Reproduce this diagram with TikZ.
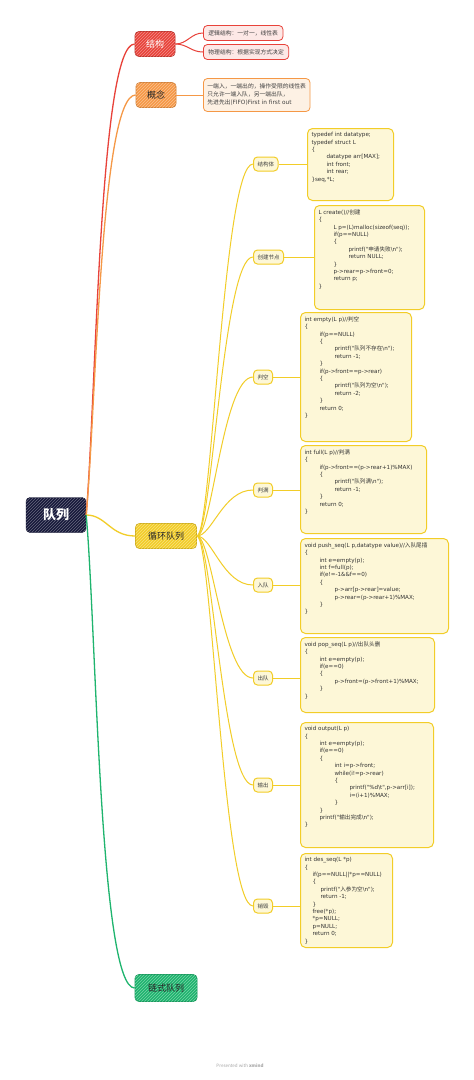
\documentclass[tikz,border=0pt]{standalone}
\usepackage{fontspec}
\setmainfont{Noto Sans CJK SC}[Ligatures=TeXOff]
\newfontfamily\cjk{Noto Sans CJK SC}[Ligatures=TeXOff]
\newfontfamily\codelatin{DejaVu Sans}[Ligatures=TeXOff]
\usepackage{xcolor}
\usepackage{tikz}
\usetikzlibrary{patterns}
\definecolor{rootblue}{RGB}{22,24,58}
\definecolor{jgred}{RGB}{232,66,58}
\definecolor{jgpink}{RGB}{253,232,230}
\definecolor{gnorange}{RGB}{245,152,70}
\definecolor{gnpeach}{RGB}{253,241,228}
\definecolor{xhyellow}{RGB}{242,205,40}
\definecolor{codefill}{RGB}{253,247,215}
\definecolor{lsgreen}{RGB}{30,180,110}
\newcommand{\cind}[1]{\hspace*{#1}}
\newcommand{\bksl}{\textbackslash}

\begin{document}
\begin{tikzpicture}[x=1pt, y=-1pt,
    rootbox/.style={draw=rootblue!80!black, fill=rootblue, rounded corners=4pt, minimum width=60pt, minimum height=35pt, text=white, font=\fontsize{13}{13}\selectfont\bfseries, postaction={pattern=north east lines, pattern color=white!35!rootblue}},
    topic/.style={rounded corners=4pt, line width=0.8pt, minimum height=25pt, font=\fontsize{9}{9}\selectfont},
    leaf/.style={rounded corners=4pt, line width=0.8pt, font=\fontsize{5.8}{8}\selectfont, text=black!75, inner xsep=5pt, inner ysep=3pt, minimum height=15pt, anchor=west},
    sublabel/.style={draw=xhyellow, fill=codefill, rounded corners=4pt, line width=1pt, font=\fontsize{5.5}{6}\selectfont, text=black!75, inner xsep=4pt, minimum height=14pt, anchor=west},
    codebox/.style={draw=xhyellow, fill=codefill, rounded corners=5pt, line width=1pt, anchor=north west, inner sep=4pt, font=\codelatin\fontsize{5.6}{7.4}\selectfont, text=black!80},
    branch/.style={line width=1.3pt},
    twig/.style={line width=1pt, draw=xhyellow}]

    % page
    \fill[white] (0,0) rectangle (474,1080);
    \useasboundingbox (0,0) rectangle (474,1080);

    % main topics
    \node[rootbox] (root) at (56,515) {队列};
    \node[topic, fill=jgred, draw=jgred!80!black, text=white, minimum width=40pt, postaction={pattern=north east lines, pattern color=white!40!jgred}] (jg) at (155,44) {结构};
    \node[topic, fill=gnorange, draw=gnorange!85!black, text=black!85, minimum width=40pt, postaction={pattern=north east lines, pattern color=white!40!gnorange}] (gn) at (156,95) {概念};
    \node[topic, fill=xhyellow, draw=xhyellow!85!black, text=black!85, minimum width=61pt, postaction={pattern=north east lines, pattern color=white!40!xhyellow}] (xhdl) at (166,536) {循环队列};
    \node[topic, fill=lsgreen, draw=lsgreen!85!black, text=black!85, minimum width=62pt, minimum height=27pt, postaction={pattern=north east lines, pattern color=white!40!lsgreen}] (lsdl) at (166,988) {链式队列};

    % leaves
    \node[leaf, fill=jgpink, draw=jgred] (jgl) at (203,33) {逻辑结构：一对一，线性表};
    \node[leaf, fill=jgpink, draw=jgred] (jgw) at (203,52) {物理结构：根据实现方式决定};
    \node[leaf, fill=gnpeach, draw=gnorange, align=left, minimum height=33pt, inner xsep=4pt] (gnl) at (203,95) {一端入，一端出的，操作受限的线性表\\只允许一端入队，另一端出队，\\先进先出({\codelatin FIFO)First in first out}};

    % circular queue items
    \node[sublabel] (jgt) at (253,164) {结构体};
    \node[sublabel] (cjjd) at (253,257) {创建节点};
    \node[sublabel] (pk) at (253,377) {判空};
    \node[sublabel] (pm) at (253,490) {判满};
    \node[sublabel] (rd) at (253,585) {入队};
    \node[sublabel] (cd) at (253,678) {出队};
    \node[sublabel] (sc) at (253,785) {输出};
    \node[sublabel] (xhui) at (253,906) {销毁};

    % code
    \node[codebox] (jgtcode) at (307,128) {\parbox[t][64pt][t]{78pt}{\raggedright
        typedef int datatype;\\
        typedef struct L\\
        \{\\
        \cind{15pt}datatype arr[MAX];\\
        \cind{15pt}int front;\\
        \cind{15pt}int rear;\\
        \}seq,*L;}};
    \node[codebox] (cjjdcode) at (314,205) {\parbox[t][96pt][t]{102pt}{\raggedright
        L create()//{\cjk 创建}\\
        \{\\
        \cind{15pt}L p=(L)malloc(sizeof(seq));\\
        \cind{15pt}if(p==NULL)\\
        \cind{15pt}\{\\
        \cind{30pt}printf("{\cjk 申请失败}\bksl n");\\
        \cind{30pt}return NULL;\\
        \cind{15pt}\}\\
        \cind{15pt}p->rear=p->front=0;\\
        \cind{15pt}return p;\\
        \}}};
    \node[codebox] (pkcode) at (300,312) {\parbox[t][121pt][t]{103pt}{\raggedright
        int empty(L p)//{\cjk 判空}\\
        \{\\
        \cind{15pt}if(p==NULL)\\
        \cind{15pt}\{\\
        \cind{30pt}printf("{\cjk 队列不存在}\bksl n");\\
        \cind{30pt}return -1;\\
        \cind{15pt}\}\\
        \cind{15pt}if(p->front==p->rear)\\
        \cind{15pt}\{\\
        \cind{30pt}printf("{\cjk 队列为空}\bksl n");\\
        \cind{30pt}return -2;\\
        \cind{15pt}\}\\
        \cind{15pt}return 0;\\
        \}}};
    \node[codebox] (pmcode) at (300,445) {\parbox[t][80pt][t]{118pt}{\raggedright
        int full(L p)//{\cjk 判满}\\
        \{\\
        \cind{15pt}if(p->front==(p->rear+1)\%MAX)\\
        \cind{15pt}\{\\
        \cind{30pt}printf("{\cjk 队列满}\bksl n");\\
        \cind{30pt}return -1;\\
        \cind{15pt}\}\\
        \cind{15pt}return 0;\\
        \}}};
    \node[codebox] (rdcode) at (300,538) {\parbox[t][87pt][t]{140pt}{\raggedright
        void push\_seq(L p,datatype value)//{\cjk 入队尾插}\\
        \{\\
        \cind{15pt}int e=empty(p);\\
        \cind{15pt}int f=full(p);\\
        \cind{15pt}if(e!=-1\&\&f==0)\\
        \cind{15pt}\{\\
        \cind{30pt}p->arr[p->rear]=value;\\
        \cind{30pt}p->rear=(p->rear+1)\%MAX;\\
        \cind{15pt}\}\\
        \}}};
    \node[codebox] (cdcode) at (300,637) {\parbox[t][67pt][t]{126pt}{\raggedright
        void pop\_seq(L p)//{\cjk 出队头删}\\
        \{\\
        \cind{15pt}int e=empty(p);\\
        \cind{15pt}if(e==0)\\
        \cind{15pt}\{\\
        \cind{30pt}p->front=(p->front+1)\%MAX;\\
        \cind{15pt}\}\\
        \}}};
    \node[codebox] (sccode) at (300,722) {\parbox[t][117pt][t]{125pt}{\raggedright
        void output(L p)\\
        \{\\
        \cind{15pt}int e=empty(p);\\
        \cind{15pt}if(e==0)\\
        \cind{15pt}\{\\
        \cind{30pt}int i=p->front;\\
        \cind{30pt}while(i!=p->rear)\\
        \cind{30pt}\{\\
        \cind{45pt}printf("\%d\bksl t",p->arr[i]);\\
        \cind{45pt}i=(i+1)\%MAX;\\
        \cind{30pt}\}\\
        \cind{15pt}\}\\
        \cind{15pt}printf("{\cjk 输出完成}\bksl n");\\
        \}}};
    \node[codebox] (xhuicode) at (300,853) {\parbox[t][86pt][t]{84pt}{\raggedright
        int des\_seq(L *p)\\
        \{\\
        \cind{8pt}if(p==NULL||*p==NULL)\\
        \cind{8pt}\{\\
        \cind{16pt}printf("{\cjk 入参为空}\bksl n");\\
        \cind{16pt}return -1;\\
        \cind{8pt}\}\\
        \cind{8pt}free(*p);\\
        \cind{8pt}*p=NULL;\\
        \cind{8pt}p=NULL;\\
        \cind{8pt}return 0;\\
        \}}};

    % branches from the root
    \draw[branch, jgred] (root.east) .. controls +(10,-120) and +(-35,0) .. (jg.west);
    \draw[branch, gnorange] (root.east) .. controls +(10,-110) and +(-35,0) .. (gn.west);
    \draw[branch, xhyellow] (root.east) .. controls +(20,0) and +(-25,0) .. (xhdl.west);
    \draw[branch, lsgreen] (root.east) .. controls +(10,110) and +(-35,0) .. (lsdl.west);

    % leaves
    \draw[line width=1pt, jgred] (jg.east) .. controls +(12,0) and +(-12,0) .. (jgl.west);
    \draw[line width=1pt, jgred] (jg.east) .. controls +(12,0) and +(-12,0) .. (jgw.west);
    \draw[line width=1pt, gnorange] (gn.east) -- (gnl.west);

    % circular queue
    \foreach \n in {jgt, cjjd, pk, pm, rd, cd, sc, xhui} {
        \draw[twig] (xhdl.east) .. controls +(15,0) and +(-30,0) .. (\n.west);
        \draw[twig] (\n.east) -- (\n.east -| \n code.west);
    }

    \node[font=\fontsize{4.5}{5}\selectfont, text=black!35] (foot) at (240,1066) {Presented with \textbf{xmind}};
\end{tikzpicture}
\end{document}
